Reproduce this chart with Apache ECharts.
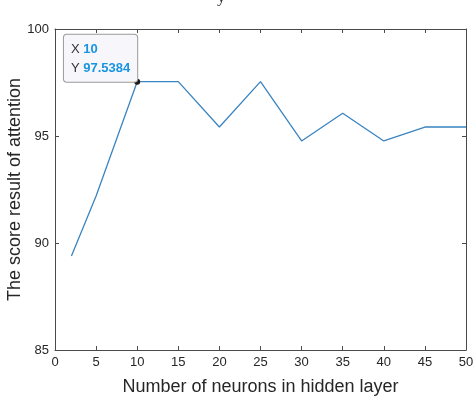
<!DOCTYPE html>
<html>
<head>
<meta charset="utf-8">
<script src="https://cdn.jsdelivr.net/npm/echarts@6/dist/echarts.min.js"></script>
<style>html,body{margin:0;padding:0;background:#fff}#c{width:474px;height:415px}</style>
</head>
<body>
<div id="c"></div>
<script>
var neurons = [2, 5, 10, 15, 20, 25, 30, 35, 40, 45, 50];
var scores = [89.39, 92.2, 97.5384, 97.5384, 95.42, 97.5384, 94.77, 96.06, 94.77, 95.42, 95.42];
var xTicks = {min: 0, max: 50, interval: 5};
var yTicks = {min: 85, max: 100, interval: 5};
var tipIndex = 2;
var xLabel = 'Number of neurons in hidden layer';
var yLabel = 'The score result of attention';

var data = neurons.map(function (x, i) {
  var item = {value: [x, scores[i]]};
  if (i === tipIndex) {
    item.symbol = 'circle';
    item.symbolSize = 6;
    item.itemStyle = {color: '#1a1a1a', opacity: 1};
    item.label = {
      show: true,
      position: [3, 3],
      align: 'right',
      verticalAlign: 'bottom',
      formatter: '{k|X }{v|' + x + '}\n{k|Y }{v|' + scores[i] + '}',
      backgroundColor: '#f7f7fb',
      borderColor: '#9a9a9a',
      borderWidth: 1,
      borderRadius: 3,
      padding: [5, 7, 4, 7],
      rich: {
        k: {align: 'left', color: '#333', fontSize: 13, fontFamily: 'Liberation Sans', lineHeight: 19},
        v: {align: 'left', color: '#1894e0', fontSize: 13, fontWeight: 'bold', fontFamily: 'Liberation Sans', lineHeight: 19}
      }
    };
  }
  return item;
});

var axisCol = '#4a4a4a';
function xAx(pos, labels) {
  return {
    type: 'value', position: pos, min: xTicks.min, max: xTicks.max, interval: xTicks.interval,
    axisLine: {show: true, onZero: false, lineStyle: {color: axisCol, width: 1}},
    axisTick: {show: true, inside: true, length: 4, lineStyle: {color: axisCol}},
    axisLabel: {show: labels, color: '#262626', fontSize: 13, fontFamily: 'Liberation Sans', margin: 6},
    splitLine: {show: false},
    name: labels ? xLabel : '', nameLocation: 'middle', nameGap: 28, nameMoveOverlap: false,
    nameTextStyle: {color: '#262626', fontSize: 18, fontFamily: 'Liberation Sans'}
  };
}
function yAx(pos, labels) {
  return {
    type: 'value', position: pos, min: yTicks.min, max: yTicks.max, interval: yTicks.interval,
    axisLine: {show: true, onZero: false, lineStyle: {color: axisCol, width: 1}},
    axisTick: {show: true, inside: true, length: 4, lineStyle: {color: axisCol}},
    axisLabel: {show: labels, color: '#262626', fontSize: 13, fontFamily: 'Liberation Sans', margin: 6},
    splitLine: {show: false},
    name: labels ? yLabel : '', nameLocation: 'middle', nameGap: 31, nameMoveOverlap: false,
    nameTextStyle: {color: '#262626', fontSize: 18, fontFamily: 'Liberation Sans'}
  };
}

var chart = echarts.init(document.getElementById('c'), null, {renderer: 'canvas'});
chart.setOption({
  animation: false,
  backgroundColor: '#fff',
  title: {text: 'y', left: 212, top: -16, textStyle: {fontFamily: 'Liberation Serif', fontSize: 17, fontWeight: 'normal', color: '#333'}},
  grid: {left: 55, right: 8, top: 29, bottom: 65, containLabel: false, outerBoundsMode: 'none'},
  xAxis: [xAx('bottom', true), xAx('top', false)],
  yAxis: [yAx('left', true), yAx('right', false)],
  series: [{
    type: 'line',
    data: data,
    symbol: 'none',
    showSymbol: true,
    lineStyle: {color: '#3a84c0', width: 1.3},
    itemStyle: {color: '#3a84c0'},
    z: 3
  }]
});
</script>
</body>
</html>
